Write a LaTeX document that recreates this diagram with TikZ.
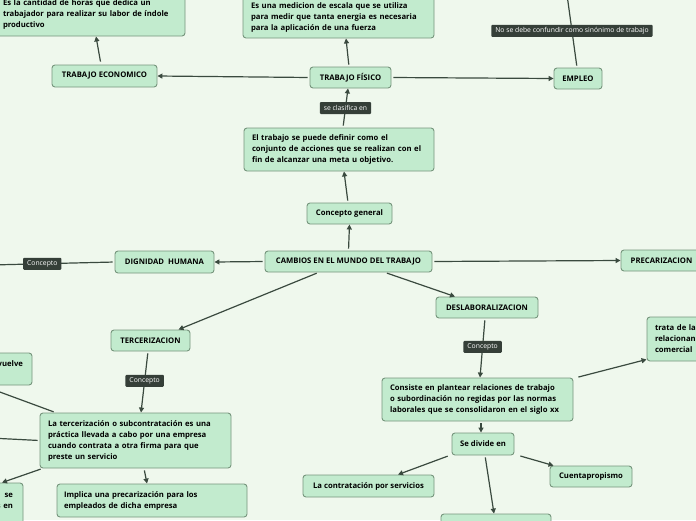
\documentclass[tikz,border=0pt]{standalone}
\usepackage{fontspec}
\setmainfont{Open Sans}
\usetikzlibrary{arrows.meta}
\definecolor{bgc}{HTML}{EFF8ED}
\definecolor{fillc}{HTML}{C2EBCE}
\definecolor{bordc}{HTML}{76957C}
\definecolor{labc}{HTML}{353F38}
\definecolor{linec}{HTML}{3A4A3F}
\tikzset{
  box/.style={draw=bordc, fill=fillc, rounded corners=3pt, line width=0.9pt,
    font=\fontsize{7.7}{11}\selectfont\bfseries, text=black, inner sep=0pt},
  tbox/.style={box, align=left, inner ysep=0pt},
  tag/.style={fill=labc, text=white, font=\fontsize{6.8}{7}\selectfont,
    inner xsep=4pt, inner ysep=0pt, minimum height=12pt, rounded corners=1pt},
  link/.style={draw=linec, line width=1.2pt, -{Triangle[length=5pt,width=5pt]}, shorten <=2pt},
  plain/.style={draw=linec, line width=1.2pt, shorten <=2pt},
}
\begin{document}
\begin{tikzpicture}[x=1pt,y=-1pt]
\clip (0,0) rectangle (696,520);
\fill[bgc] (0,0) rectangle (696,520);
% boxes
\node[tbox, minimum width=195pt, minimum height=44pt, inner xsep=13pt, text width=169pt] (econdef) at (87.5,14)
  {\mbox{Es la cantidad de horas que dedica un}\\\mbox{trabajador para realizar su labor de índole}\\\mbox{productivo}};
\node[box, minimum width=105pt, minimum height=22pt] (econ) at (104.5,76) {TRABAJO ECONOMICO};
\node[box, minimum width=81pt, minimum height=21pt] (fisico) at (350.5,77.5) {TRABAJO FÍSICO};
\node[tbox, minimum width=191pt, minimum height=42pt, inner xsep=8pt, text width=175pt] (fisdef) at (338.5,17)
  {\mbox{Es una medicion de escala que se utiliza}\\\mbox{para medir que tanta energia es necesaria}\\\mbox{para la aplicación de una fuerza}};
\node[box, minimum width=48pt, minimum height=21pt] (empleo) at (578,78.5) {EMPLEO};
\node[tbox, minimum width=190pt, minimum height=43pt, inner xsep=8pt, text width=174pt] (trabdef) at (339,149.5)
  {\mbox{El trabajo se puede definir como el}\\\mbox{conjunto de acciones que se realizan con el}\\\mbox{fin de alcanzar una meta u objetivo.}};
\node[box, minimum width=85pt, minimum height=21pt] (concgen) at (349.5,213.5) {Concepto general};
\node[box, minimum width=167pt, minimum height=21pt] (cambios) at (348.5,261.5) {CAMBIOS EN EL MUNDO DEL TRABAJO};
\node[box, minimum width=99pt, minimum height=22pt] (dignidad) at (164.5,262) {DIGNIDAD\ \ HUMANA};
\node[box, minimum width=81pt, minimum height=21pt] (precar) at (661.5,260.5) {PRECARIZACION};
\node[box, minimum width=102pt, minimum height=21pt] (deslab) at (487,307.5) {DESLABORALIZACION};
\node[box, minimum width=79pt, minimum height=21pt] (tercer) at (150.5,340.5) {TERCERIZACION};
\node[tbox, minimum width=191pt, minimum height=43pt, inner xsep=8pt, text width=175pt] (consiste) at (477.5,399.5)
  {\mbox{Consiste en plantear relaciones de trabajo}\\\mbox{o subordinación no regidas por las normas}\\\mbox{laborales que se consolidaron en el siglo xx}};
\node[tbox, minimum width=113pt, minimum height=44pt, inner xsep=8pt, text width=97pt] (trata) at (703.5,339)
  {\mbox{trata de la}\\\mbox{relacionan}\\\mbox{comercial}};
\node[box, minimum width=62pt, minimum height=22pt] (sedivide) at (483,444) {Se divide en};
\node[box, minimum width=131pt, minimum height=22pt] (contrat) at (368.5,486) {La contratación por servicios};
\node[box, minimum width=82pt, minimum height=21pt] (cuenta) at (591,476.5) {Cuentapropismo};
\node[box, minimum width=110pt, minimum height=26pt] (bottom) at (496,527) {};
\node[tbox, minimum width=191pt, minimum height=55pt, inner xsep=8pt, text width=175pt] (tercdef) at (135.5,440.5)
  {\mbox{La tercerización o subcontratación es una}\\\mbox{práctica llevada a cabo por una empresa}\\\mbox{cuando contrata a otra firma para que}\\\mbox{preste un servicio}};
\node[tbox, minimum width=190pt, minimum height=33pt, inner xsep=7pt, text width=176pt] (implica) at (152,500.5)
  {\mbox{Implica una precarización para los}\\\mbox{empleados de dicha empresa}};
\node[box, minimum width=132pt, minimum height=32pt, align=right, inner xsep=9pt, text width=114pt] (vuelve) at (-34,369)
  {vuelve\\\phantom{x}};
\node[box, minimum width=123pt, minimum height=57pt, align=right, inner xsep=10pt, text width=103pt] (sebox) at (-38.5,511.5)
  {se\hspace*{4pt}\\s en\\\phantom{x}\\\phantom{x}};
% off-picture ends
\coordinate (offE) at (565,-20);
\coordinate (offD) at (-30,265.5);
\coordinate (offT1) at (-30,381);
\coordinate (offT2) at (-30,437);
% connectors
\draw[link, shorten <=3pt] ([xshift=-3.5pt]econ.north) -- ([xshift=8.5pt]econdef.south);
\draw[link] (fisico.west) -- (econ.east);
\draw[link] ([xshift=-1.5pt]fisico.north) -- ([xshift=7.5pt]fisdef.south);
\draw[link] (fisico.east) -- (empleo.west);
\draw[plain] ([xshift=-1pt]empleo.north) -- (offE) node[tag, pos=0.42] {No se debe confundir como sinónimo de trabajo};
\draw[link] ([xshift=4pt]trabdef.north) -- ([xshift=-2.5pt]fisico.south) node[tag, pos=0.5] {se clasifica en};
\draw[link] ([xshift=-1.5pt]concgen.north) -- ([xshift=5pt]trabdef.south);
\draw[link] (cambios.north) -- (concgen.south);
\draw[link] (cambios.west) -- (dignidad.east);
\draw[plain] (dignidad.west) -- (offD) node[tag, pos=0.5] {Concepto};
\draw[link] (cambios.east) -- (precar.west);
\draw[link] ([xshift=36.5pt]cambios.south) -- ([xshift=-32pt]deslab.north);
\draw[link] ([xshift=-30pt]cambios.south) -- ([xshift=28pt]tercer.north);
\draw[link] ([xshift=-2pt]deslab.south) -- ([xshift=2.5pt]consiste.north) node[tag, pos=0.48] {Concepto};
\draw[link] ([xshift=3pt]consiste.north east) -- ([yshift=2pt]trata.south west);
\draw[link] ([xshift=3.5pt]consiste.south) -- ([xshift=-2pt]sedivide.north);
\draw[link] ([xshift=-2pt]sedivide.south west) -- ([xshift=29.5pt]contrat.north);
\draw[link] ([xshift=4pt]sedivide.south east) -- ([xshift=4pt]cuenta.north west);
\draw[link] ([xshift=2pt]sedivide.south) -- ([xshift=-2pt]bottom.north);
\draw[link] ([xshift=-2.5pt]tercer.south) -- ([xshift=5.5pt]tercdef.north) node[tag, pos=0.48] {Concepto};
\draw[link] ([xshift=8.5pt]tercdef.south) -- ([xshift=-5pt]implica.north);
\draw[plain] ([xshift=16pt]tercdef.north west) -- (offT1);
\draw[plain] (tercdef.west) -- (offT2);
\draw[link] ([xshift=3pt]tercdef.south west) -- ([xshift=40.5pt]sebox.north);
\end{tikzpicture}
\end{document}
